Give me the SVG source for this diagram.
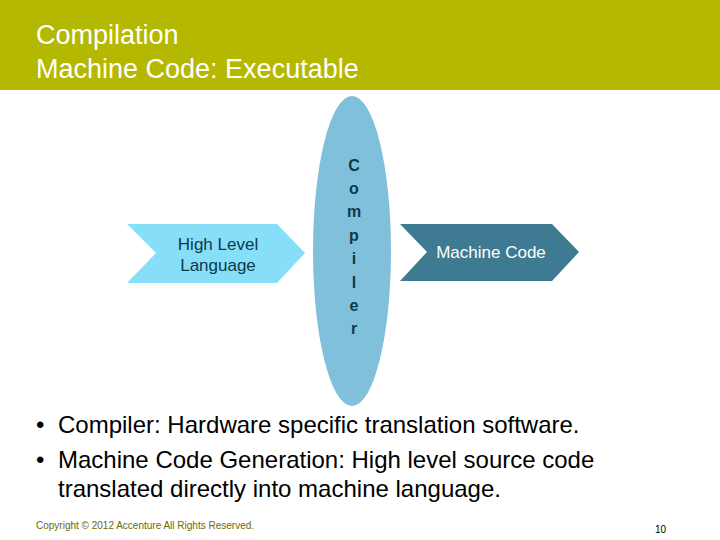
<svg xmlns="http://www.w3.org/2000/svg" width="720" height="540" viewBox="0 0 720 540">
<style>
text{font-family:"Liberation Sans",Arial,sans-serif}
.t{fill:#fff;font-size:27px}
.b{fill:#000;font-size:24px}
.c{fill:#0d3a4a;font-size:16px;font-weight:bold}
</style>
<rect width="720" height="540" fill="#fff"/>
<rect width="720" height="90" fill="#b4b800"/>
<text class="t" x="36" y="44">Compilation</text>
<text class="t" x="36" y="78">Machine Code: Executable</text>
<g id="hll">
<polygon points="127,224 277,224 305,253 277,283 127,283 156,253" fill="#87def8"/>
<text x="218" y="250" font-size="17" fill="#0d3a4a" text-anchor="middle">High Level</text>
<text x="218" y="271" font-size="17" fill="#0d3a4a" text-anchor="middle">Language</text>
</g>
<g id="compiler">
<ellipse cx="352" cy="251" rx="39" ry="155" fill="#80c0da"/>
<g text-anchor="middle">
<text class="c" x="354" y="171">C</text>
<text class="c" x="354" y="194">o</text>
<text class="c" x="354" y="217">m</text>
<text class="c" x="354" y="241">p</text>
<text class="c" x="354" y="264">i</text>
<text class="c" x="354" y="288">l</text>
<text class="c" x="354" y="311">e</text>
<text class="c" x="354" y="334">r</text>
</g>
</g>
<g id="mc">
<polygon points="400,224 552,224 579,252 552,281 400,281 427,252" fill="#3e7b92"/>
<text x="491" y="258" font-size="17" fill="#fff" text-anchor="middle">Machine Code</text>
</g>
<g id="connectors"/>
<text class="b" x="36" y="433">•</text>
<text class="b" x="58" y="433">Compiler: Hardware specific translation software.</text>
<text class="b" x="36" y="468">•</text>
<text class="b" x="58" y="468">Machine Code Generation: High level source code</text>
<text class="b" x="58" y="497">translated directly into machine language.</text>
<text x="36" y="529" font-size="10" fill="#6a6a00">Copyright © 2012 Accenture  All Rights Reserved.</text>
<text x="666" y="533" font-size="10" fill="#000" text-anchor="end">10</text>
</svg>
